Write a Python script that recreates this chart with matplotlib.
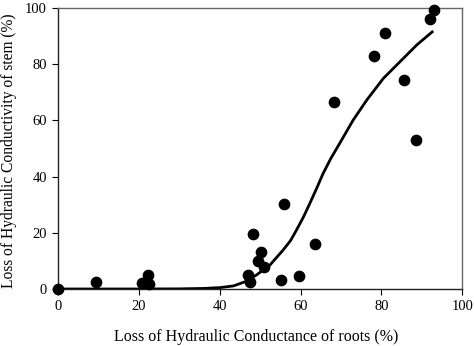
import matplotlib
matplotlib.use("Agg")
import matplotlib.pyplot as plt

# Observed data points
root_loss = [0, 9.4, 20.7, 22.2, 22.6, 47.1, 47.5, 48.3, 49.4, 50.1, 51.0,
             55.1, 55.8, 59.5, 63.6, 68.3, 78.2, 80.8, 85.5, 88.5, 91.9, 92.9]
stem_loss = [0, 2.6, 2.3, 5.1, 1.7, 5.0, 2.6, 19.6, 10.1, 13.0, 7.9,
             3.2, 30.1, 4.5, 15.9, 66.7, 83.0, 91.0, 74.3, 53.0, 96.1, 99.3]

# Fitted curve
curve_x = [0, 20, 30, 36, 40.1, 43.4, 46.3, 49.1, 52.4, 55.7, 57.5, 59.0, 60.7,
           62.3, 64.0, 65.6, 67.5, 69.7, 73.0, 76.4, 80.5, 84.6, 88.7, 92.8]
curve_y = [0, 0, 0.05, 0.2, 0.5, 1.1, 2.6, 5.0, 8.5, 13.9, 17.2, 21.0, 25.6,
           30.5, 35.9, 41.2, 46.5, 51.9, 60.1, 67.3, 75.0, 80.9, 86.8, 91.8]

x_ticks = [0, 20, 40, 60, 80, 100]
y_ticks = [0, 20, 40, 60, 80, 100]

plt.rcParams['font.family'] = ['Liberation Serif', 'DejaVu Serif']

fig = plt.figure(figsize=(4.74, 3.46), dpi=100)
ax = fig.add_axes([58/474, 1-289/346, (462.3-58)/474, (289-8)/346])

ax.plot(curve_x, curve_y, color='black', lw=2.0, solid_capstyle='butt',
        solid_joinstyle='round', zorder=2)
ax.scatter(root_loss, stem_loss, s=55, color='black', zorder=3, clip_on=False)

ax.set_xlim(0, 100)
ax.set_ylim(0, 100)
ax.set_xticks(x_ticks)
ax.set_yticks(y_ticks)
ax.tick_params(direction='out', length=4, width=0.8, labelsize=10.5, pad=4,
               colors='black')
for side in ['left', 'bottom']:
    ax.spines[side].set_color('#222222')
    ax.spines[side].set_linewidth(1.0)
for side in ['top', 'right']:
    ax.spines[side].set_color('#666666')
    ax.spines[side].set_linewidth(1.0)

fig.text(256/474, 1-337/346, 'Loss of Hydraulic Conductance of roots (%)',
         fontsize=11.5, ha='center', va='center')
fig.text(9/474, 1-151/346, 'Loss of Hydraulic Conductivity of stem (%)',
         fontsize=11.2, ha='center', va='center', rotation=90)

fig.savefig('out.png', dpi=100)
